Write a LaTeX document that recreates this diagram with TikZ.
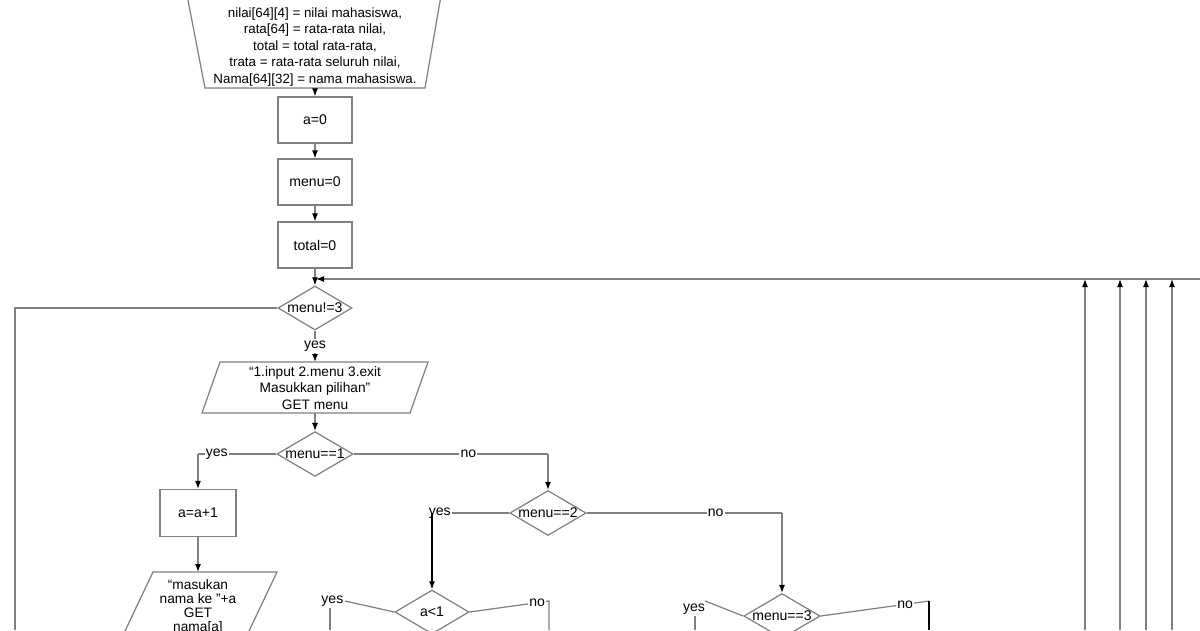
\documentclass[tikz,border=0pt]{standalone}
\usepackage{fontspec}
\setmainfont{Liberation Sans}
\usetikzlibrary{shapes.geometric,arrows.meta}
\begin{document}
\begin{tikzpicture}[x=0.01cm,y=-0.01cm,
  ln/.style={draw=black!50,line width=0.35pt},
  ar/.style={ln,-{Latex[length=0.8mm,width=0.6mm,black]}},
  box/.style={ln,rectangle,minimum width=0.74cm,minimum height=0.46cm,inner sep=0pt,font=\fontsize{4}{5}\selectfont},
  dia/.style={ln,diamond,aspect=1.7,minimum width=0.74cm,minimum height=0.44cm,inner sep=0pt,font=\fontsize{4}{5}\selectfont},
  lab/.style={fill=white,inner sep=0.3pt,font=\fontsize{4}{5}\selectfont}]
\useasboundingbox (0,0) rectangle (1200,630);
\begin{scope}
\clip (0,0) rectangle (1200,630);
\draw[ln] (186,-10) -- (205,88) -- (425,88) -- (442,-10);
\node[align=center,font=\fontsize{3.8}{4.7}\selectfont] (decl) at (315,47) {nilai[64][4] = nilai mahasiswa,\\ rata[64] = rata-rata nilai,\\ total = total rata-rata,\\ trata = rata-rata seluruh nilai,\\ Nama[64][32] = nama mahasiswa.};
\coordinate (declb) at (315,88);
\node[box] (a0) at (315,120) {a=0};
\node[box] (m0) at (315,182) {menu=0};
\node[box] (t0) at (315,245) {total=0};
\node[dia] (d1) at (315,308) {menu!=3};
\node[lab] (yes1) at (315,346) {yes};
\draw[ln] (220,362) -- (428,362) -- (410,413) -- (202,413) -- cycle;
\node[align=center,font=\fontsize{3.9}{4.8}\selectfont] (in1) at (315,388) {``1.input 2.menu 3.exit\\ Masukkan pilihan''\\ GET menu};
\coordinate (in1t) at (315,362);
\coordinate (in1b) at (315,413);
\node[dia] (d2) at (315,454) {menu==1};
\node[box,minimum width=0.76cm,minimum height=0.47cm] (aa) at (198,513) {a=a+1};
\draw[ln] (116,650) -- (153,572) -- (277,572) -- (240,650);
\node[align=center,font=\fontsize{3.9}{4}\selectfont,anchor=north,inner sep=0pt] (in2) at (198,579) {``masukan\\ nama ke "+a\\ GET\\ nama[a]};
\coordinate (in2t) at (198,572);
\node[dia] (d3) at (548,513) {menu==2};
\node[dia] (d4) at (432,612) {a<1};
\node[dia] (d5) at (782,616) {menu==3};
\end{scope}
\draw[ar] (declb) -- (a0);
\draw[ar] (a0) -- (m0);
\draw[ar] (m0) -- (t0);
\draw[ar] (t0) -- (d1);
\draw[ln] (d1) -- (yes1);
\draw[ar] (yes1) -- (in1t);
\draw[ar] (in1b) -- (d2);
\draw[ln] (d1.west) -- (15,308) -- (15,630);
\coordinate (loopin) at (316,279);
\draw[ar] (1200,279) -- (loopin);
\foreach \x in {1085,1120,1146,1172} \draw[ar] (\x,630) -- (\x,279);
\draw[ln] (d2.west) -- node[lab,pos=0.76]{yes} (198,454);
\draw[ar] (198,454) -- (aa);
\draw[ar] (aa) -- (in2t);
\draw[ln] (d2.east) -- node[lab,pos=0.59]{no} (548,454);
\draw[ar] (548,454) -- (d3);
\draw[ln] (d3.west) -- node[lab,pos=0.9]{yes} (432,513);
\draw[ar,draw=black] (432,513) -- (d4);
\draw[ln] (d3.east) -- node[lab,pos=0.66]{no} (782,513);
\draw[ar] (782,513) -- (d5);
\draw[ln] (d4.west) -- (345,601) node[lab,anchor=east] (ylab){yes};
\draw[ln] (330,608) -- (330,630);
\draw[ln] (d4.east) -- node[lab,pos=0.85]{no} (549,601) -- (549,630);
\draw[ln] (d5.west) -- (705,601);
\node[lab] (y3) at (694,609) {yes};
\draw[ln] (695,616) -- (695,630);
\draw[ln] (d5.east) -- node[lab,pos=0.78]{no} (929,601);
\draw[ln,draw=black] (929,601) -- (929,630);
\end{tikzpicture}
\end{document}
